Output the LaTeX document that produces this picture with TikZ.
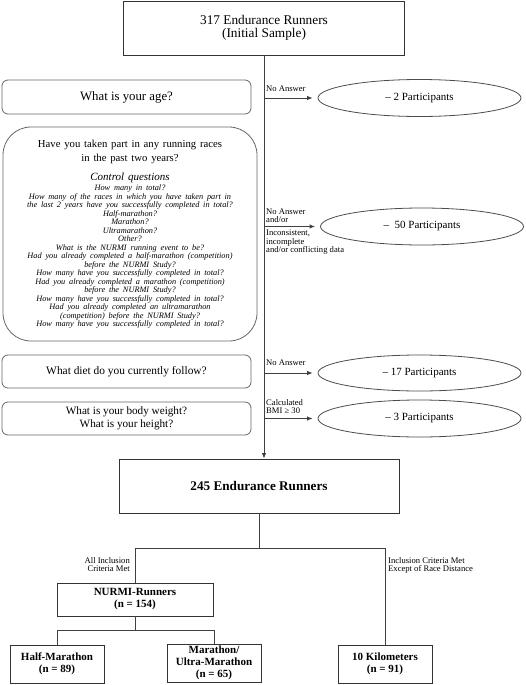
\documentclass[tikz,border=0pt]{standalone}
\usepackage{fontspec}
\setmainfont{Liberation Serif}
\usetikzlibrary{arrows.meta,shapes.geometric}

\begin{document}
\begin{tikzpicture}[x=1pt,y=-1pt]
\tikzset{
  samplebox/.style={rectangle,draw=black!80,line width=0.9pt,align=center,inner sep=1pt},
  questionbox/.style={rectangle,rounded corners=6pt,draw=black!60,line width=0.8pt,align=center,inner sep=1pt,minimum width=249pt,minimum height=33pt,font=\fontsize{11.4}{13.5}\selectfont},
  dropout/.style={ellipse,draw=black!70,line width=0.8pt,inner sep=0pt,minimum width=203pt,minimum height=37pt,font=\fontsize{11}{13}\selectfont},
  groupbox/.style={samplebox,minimum width=94pt,minimum height=38pt,font=\bfseries\fontsize{11}{12}\selectfont},
  reason/.style={inner sep=1pt,align=left,font=\fontsize{8.6}{8.2}\selectfont},
  flowline/.style={draw=black!75,line width=0.9pt},
  flowarrow/.style={flowline,-{Latex[length=5.5pt,width=4.5pt]}}
}
\useasboundingbox (0,0) rectangle (526,685);
\node[samplebox,minimum width=281pt,minimum height=54pt,font=\fontsize{13.3}{13.5}\selectfont] (start) at (264,28) {317 Endurance Runners\\(Initial Sample)};
\node[questionbox,font=\fontsize{12.8}{14}\selectfont,minimum height=34pt] (age) at (126.5,97) {What is your age?};
\node[questionbox,rounded corners=28pt,minimum width=254pt,minimum height=214pt,text width=250pt] (races) at (130,234) {\fontsize{10.7}{14}\selectfont Have you taken part in any running races\\in the past two years?\par
\fontsize{11}{19}\selectfont\itshape Control questions\par
\vspace{2pt}\fontsize{8.3}{8.5}\selectfont How many in total?\\
How many of the races in which you have taken part in\\
the last 2 years have you successfully completed in total?\\
Half-marathon?\\
Marathon?\\
Ultramarathon?\\
Other?\\
What is the NURMI running event to be?\\
Had you already completed a half-marathon (competition)\\
before the NURMI Study?\\
How many have you successfully completed in total?\\
Had you already completed a marathon (competition)\\
before the NURMI Study?\\
How many have you successfully completed in total?\\
Had you already completed an ultramarathon\\
(competition) before the NURMI Study?\\
How many have you successfully completed in total?\par};
\node[questionbox] (diet) at (126.5,371.5) {What diet do you currently follow?};
\node[questionbox,font=\fontsize{11.2}{13}\selectfont] (body) at (126.5,418.5) {What is your body weight?\\What is your height?};
\node[dropout] (ageout) at (419.5,98) {-- 2 Participants};
\node[dropout] (racesout) at (422,226.5) {--\ \ 50 Participants};
\node[dropout,minimum height=36pt] (dietout) at (419.5,373) {-- 17 Participants};
\node[dropout] (bodyout) at (419.5,418.5) {-- 3 Participants};
\node[samplebox,minimum width=280pt,minimum height=54pt,font=\bfseries\fontsize{13.2}{14}\selectfont] (total) at (259,486) {245 Endurance Runners};
\node[samplebox,minimum width=156pt,minimum height=33pt,font=\bfseries\fontsize{11}{12}\selectfont] (nurmi) at (135,599.5) {NURMI-Runners\\(n = 154)};
\node[groupbox] (half) at (57,664) {Half-Marathon\\(n = 89)};
\node[groupbox] (marathon) at (214,663) {Marathon/\\Ultra-Marathon\\(n = 65)};
\node[groupbox] (tenk) at (385,664) {10 Kilometers\\(n = 91)};
\node[reason,anchor=south west] (lblage) at (265,93) {No Answer};
\node[reason,anchor=south west] (lblraces) at (265,224) {No Answer\\and/or};
\node[reason,anchor=north west] (lblracesb) at (265,229) {Inconsistent,\\incomplete\\and/or conflicting data};
\node[reason,anchor=south west] (lbldiet) at (265,367) {No Answer};
\node[reason,anchor=south west] (lblbody) at (265,415) {Calculated\\BMI ≥ 30};
\node[reason,anchor=north east,align=right] (lblnurmi) at (131,556) {All Inclusion\\Criteria Met};
\node[reason,anchor=north west] (lbltenk) at (387,556) {Inclusion Criteria Met\\Except of Race Distance};
\coordinate (fork) at (259,548);
\coordinate (subfork) at (135,630);
\draw[flowarrow] (start.south) -- (start.south |- total.north);
\draw[flowarrow,shorten >=5pt] (start.south |- ageout.west) -- (ageout.west);
\draw[flowarrow,shorten >=5pt] (start.south |- racesout.west) -- (racesout.west);
\draw[flowarrow,shorten >=5pt] (start.south |- dietout.west) -- (dietout.west);
\draw[flowarrow,shorten >=5pt] (start.south |- bodyout.west) -- (bodyout.west);
\draw[flowline] (total.south) -- (fork);
\draw[flowline] (fork) -| (nurmi.north);
\draw[flowline] (fork) -| (tenk.north);
\draw[flowline] (nurmi.south) -- (subfork);
\draw[flowline] (subfork) -| (half.north);
\draw[flowline] (subfork) -| (marathon.north);
\end{tikzpicture}
\end{document}
